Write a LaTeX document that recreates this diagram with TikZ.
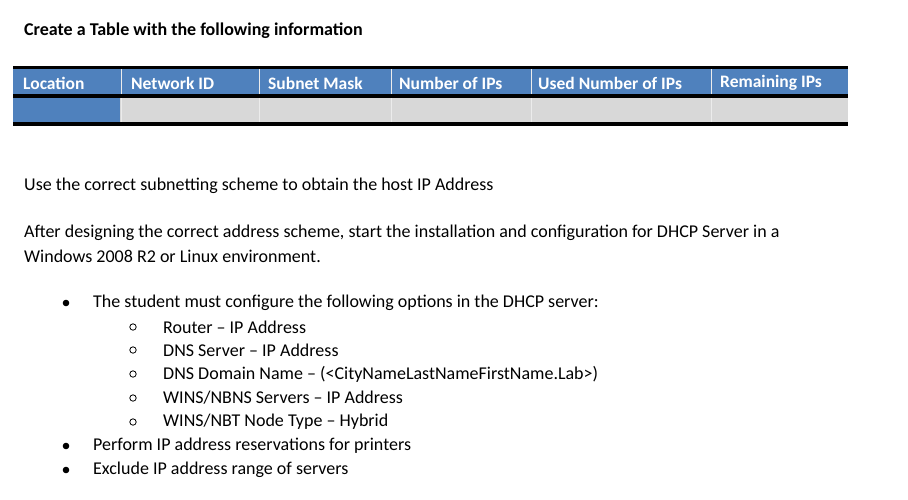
\documentclass[tikz,border=0pt]{standalone}
\usepackage{fontspec}
\setmainfont{Carlito}
\begin{document}
\begin{tikzpicture}[x=1pt,y=-1pt,
  txt/.style={anchor=west,inner sep=0pt,font=\fontsize{18}{22}\selectfont},
  hdr/.style={anchor=west,inner sep=0pt,text=white,font=\bfseries\fontsize{17.5}{20}\selectfont},
  blk/.style={line width=3.5pt,black}]
\useasboundingbox (0,0) rectangle (908,500);
\definecolor{hblue}{RGB}{79,129,189}
\definecolor{rgray}{RGB}{216,216,216}
\node[txt,font=\bfseries\fontsize{18}{22}\selectfont] (title) at (24,31) {Create a Table with the following information};
% table
\fill[hblue] (13,69) rectangle (848,95);
\fill[rgray] (13,97) rectangle (848,123);
\fill[hblue] (13,97) rectangle (120,123);
\foreach \x in {121,259,391,531,711}{\draw[white!85!gray,line width=0.6pt] (\x,67) -- (\x,125);}
\draw[blk] (13,67.5) -- (848,67.5);
\draw[blk] (13,96) -- (848,96);
\draw[blk] (13,124) -- (848,124);
\node[hdr] (h1) at (23,83) {Location};
\node[hdr] (h2) at (131,83) {Network ID};
\node[hdr] (h3) at (268,83) {Subnet Mask};
\node[hdr] (h4) at (399,83) {Number of IPs};
\node[hdr] (h5) at (538,83) {Used Number of IPs};
\node[hdr] (h6) at (720,83) {Remaining IPs};
% text
\node[txt] (t1) at (24,186) {Use the correct subnetting scheme to obtain the host IP Address};
\node[txt] (t2) at (24,233) {After designing the correct address scheme, start the installation and configuration for DHCP Server in a};
\node[txt] (t3) at (24,256) {Windows 2008 R2 or Linux environment.};
\foreach \y/\t in {303/{The student must configure the following options in the DHCP server:},446/{Perform IP address reservations for printers},470/{Exclude IP address range of servers}}{
  \fill (66,\y) circle (3.3);
  \node[txt] at (93,\y) {\t};}
\foreach \y/\t in {327/{Router – IP Address},350/{DNS Server – IP Address},374/{DNS Domain Name – (<CityNameLastNameFirstName.Lab>)},398/{WINS/NBNS Servers – IP Address},422/{WINS/NBT Node Type – Hybrid}}{
  \draw[line width=0.8pt] (133,\y) circle (3.2);
  \node[txt] at (163,\y) {\t};}
\end{tikzpicture}
\end{document}
